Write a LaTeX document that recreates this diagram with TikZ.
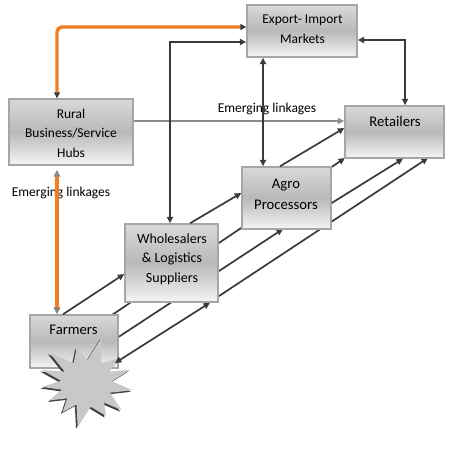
\documentclass[tikz,border=0pt]{standalone}
\usepackage{fontspec}
\setmainfont{Carlito}
\usetikzlibrary{arrows.meta,shadows}
\definecolor{arrdark}{HTML}{3A3A3A}
\definecolor{boxline}{HTML}{A6A6A6}
\definecolor{orng}{HTML}{F47D20}
\definecolor{lgarr}{HTML}{8C8C8C}
\definecolor{burstc}{HTML}{C8C8C8}
\begin{document}
\begin{tikzpicture}[x=1pt,y=-1pt,
  box/.style={draw=boxline, line width=1.4pt, top color=gray!30, bottom color=gray!8, middle color=gray!55,
    drop shadow={shadow xshift=0.4pt, shadow yshift=-1.4pt, fill=black!80, opacity=1}, inner sep=0pt},
  txt/.style={font=\fontsize{13.5}{19.5}\selectfont, align=center, inner sep=0pt, text=black},
  bigtxt/.style={txt, font=\fontsize{14.7}{21}\selectfont},
  conn/.style={draw=arrdark, line width=1.7pt},
  arr/.style={-{Triangle[length=6.5pt,width=6pt]}},
  darr/.style={{Triangle[length=6.5pt,width=6pt]}-{Triangle[length=6.5pt,width=6pt]}},
  orngline/.style={draw=orng, line width=3.4pt},
]
\fill[white] (0,0) rectangle (453,449);
\useasboundingbox (0,0) rectangle (453,449);

% labels (behind lines)
\node[txt] (lab1) at (267,109) {Emerging linkages};
\node[txt] (lab2) at (61,193) {Emerging linkages};

% coordinates
\coordinate (oc) at (57,27);
\coordinate (dc) at (170,42);
\coordinate (rc) at (405,40);
\coordinate (sb) at (87,383);
\coordinate (sbt) at (115,363);

% hidden long lines (behind boxes)
\coordinate (f4) at (112,315);
\coordinate (f5) at (117,338);
\coordinate (w6) at (210,302);
\draw[conn, arr] (f4) -- (345,158);
\draw[conn, arr] (f5) -- (283,229);
\draw[conn, arr] (w6) -- (428,158);

% boxes
\node[box, minimum width=110pt, minimum height=52pt] (exp) at (302,31) {};
\node[box, minimum width=124pt, minimum height=66pt] (rur) at (71,132) {};
\node[box, minimum width=99pt, minimum height=52pt] (ret) at (394.5,132) {};
\node[box, minimum width=89pt, minimum height=62pt] (agro) at (286.5,198) {};
\node[box, minimum width=93pt, minimum height=78pt] (whl) at (171.5,263) {};
\node[box, minimum width=88pt, minimum height=53pt] (frm) at (74,341.5) {};

% box texts
\node[txt] (expT) at (302.5,29) {Export- Import\\Markets};
\node[txt] (rurT) at (71,133) {Rural\\Business/Service\\Hubs};
\node[bigtxt] (retT) at (395,121) {Retailers};
\node[bigtxt] (agroT) at (286,194) {Agro\\Processors};
\node[txt, font=\fontsize{14}{19.5}\selectfont] (whlT) at (172,259) {Wholesalers\\\&\ Logistics\\Suppliers};
\node[bigtxt] (frmT) at (73.5,330) {Farmers};

% starburst
\fill[black!75] ([shift={(-1.6,1.6)}]sb) +(288:48) -- +(305:24) -- +(323:41) -- +(333:25) -- +(343:45) -- +(356:25)
  -- +(9:46) -- +(23:25) -- +(38:44) -- +(49:26) -- +(60:38) -- +(81:24) -- +(102:45) -- +(116:24)
  -- +(130:38) -- +(142:25) -- +(155:41) -- +(165:26) -- +(175:45) -- +(185:26) -- +(196:47)
  -- +(207:25) -- +(219:48) -- +(236:24) -- +(254:37) -- +(271:23) -- cycle;
\fill[burstc] (sb) +(288:48) -- +(305:24) -- +(323:41) -- +(333:25) -- +(343:45) -- +(356:25)
  -- +(9:46) -- +(23:25) -- +(38:44) -- +(49:26) -- +(60:38) -- +(81:24) -- +(102:45) -- +(116:24)
  -- +(130:38) -- +(142:25) -- +(155:41) -- +(165:26) -- +(175:45) -- +(185:26) -- +(196:47)
  -- +(207:25) -- +(219:48) -- +(236:24) -- +(254:37) -- +(271:23) -- cycle;

% orange links
\draw[orngline, rounded corners=5pt, {Triangle[color=arrdark,length=6pt,width=6pt]}-{Triangle[color=arrdark,length=6pt,width=6pt]}]
  (rur.north -| oc) -- (oc) -- (exp.west |- oc);
\draw[orngline, shorten <=4pt, {Triangle[color=lgarr,length=7pt,width=6.5pt]}-{Triangle[color=gray,length=7pt,width=6.5pt]}]
  (rur.south -| oc) -- (frm.north -| oc);

% grey emerging linkage
\draw[draw=lgarr, line width=1.7pt, -{Triangle[length=6.5pt,width=6pt,color=lgarr]}] (rur.east |- 0,121) -- (ret.west |- 0,121);

% dark connectors
\draw[conn, darr] (whl.north -| dc) -- (dc) -- (exp.west |- dc);
\draw[conn, darr] (exp.south -| 263,0) -- (agro.north -| 263,0);
\draw[conn, darr] (exp.east |- rc) -- (rc) -- (ret.north -| rc);

% diagonal flows
\draw[conn, arr] (frm.north -| 63,0) -- (whl.west |- 0,274);
\draw[conn, arr] (whl.north -| 190,0) -- (agro.west |- 0,193);
\draw[conn, arr] (agro.north -| 280,0) -- (ret.west |- 0,128);
\draw[conn, arr] (agro.east |- 0,203) -- (ret.south -| 403,0);
\draw[conn, darr] (sbt) -- (whl.south -| w6);
\end{tikzpicture}
\end{document}
